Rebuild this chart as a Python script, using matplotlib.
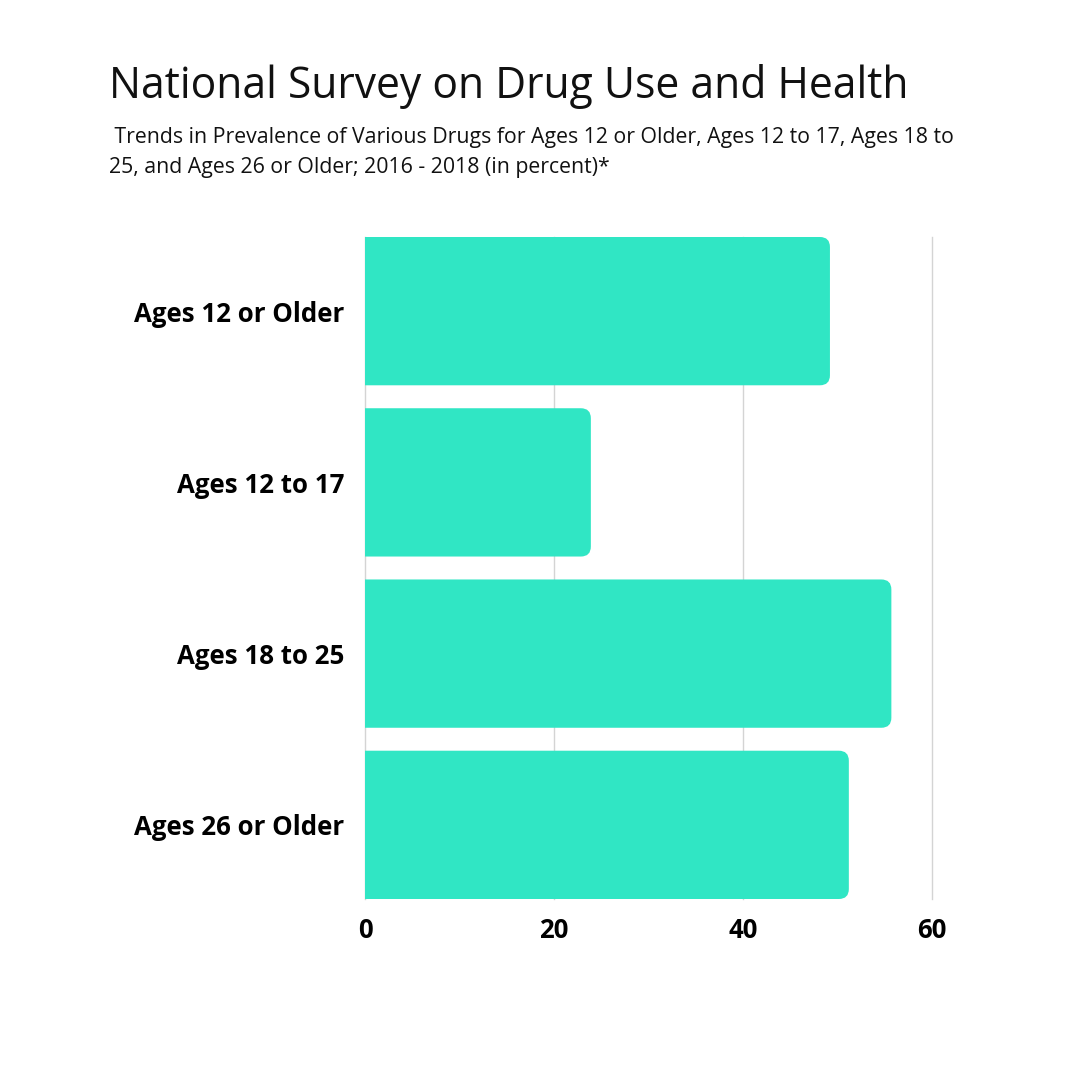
import matplotlib.pyplot as plt
from matplotlib.patches import PathPatch
from matplotlib.path import Path

plt.rcParams['font.family'] = ['Open Sans', 'DejaVu Sans']

# data
groups = ['Ages 12 or Older', 'Ages 12 to 17', 'Ages 18 to 25', 'Ages 26 or Older']
values = [49.2, 23.9, 55.7, 51.2]
xticks = [0, 20, 40, 60]

bar_color = '#30E6C4'

fig = plt.figure(figsize=(10.8, 10.8), dpi=100)
ax = fig.add_axes([365 / 1080, 1 - 899 / 1080, (932 - 365) / 1080, (899 - 237) / 1080])

bar_h = 0.866
ax.set_xlim(0, 60)
ax.set_ylim(3 + bar_h / 2, -bar_h / 2)

# px per data unit, so the corners stay round
px_x = (932 - 365) / 60
px_y = (899 - 237) / (3 + bar_h)
rx = 10 / px_x
ry = 10 / px_y


def right_rounded(x0, y0, w, h):
    x1, y1 = x0 + w, y0 + h
    verts = [(x0, y0), (x1 - rx, y0), (x1, y0), (x1, y0 + ry),
             (x1, y1 - ry), (x1, y1), (x1 - rx, y1), (x0, y1), (x0, y0)]
    codes = [Path.MOVETO, Path.LINETO, Path.CURVE3, Path.CURVE3,
             Path.LINETO, Path.CURVE3, Path.CURVE3, Path.LINETO, Path.CLOSEPOLY]
    return Path(verts, codes)


bars = ax.barh(range(len(groups)), values, height=bar_h, color=bar_color, alpha=0)
for b in bars:
    p = right_rounded(b.get_x(), b.get_y(), b.get_width(), b.get_height())
    ax.add_patch(PathPatch(p, fc=bar_color, ec='none', zorder=3))

ax.set_xticks(xticks)
ax.set_xticklabels([str(t) for t in xticks], fontsize=18.5, fontweight='bold')
ax.set_yticks(range(len(groups)))
ax.set_yticklabels(groups, fontsize=18.6, fontweight='bold')
ax.tick_params(length=0)
ax.tick_params(axis='y', pad=15)
ax.tick_params(axis='x', pad=13)

for t in xticks:
    ax.axvline(t, color='#d4d4d4', lw=1, zorder=1, clip_on=False)
for s in ax.spines.values():
    s.set_visible(False)

fig.text(109 / 1080, 1 - 98 / 1080, 'National Survey on Drug Use and Health',
         fontsize=30.7, ha='left', va='baseline', color='#111111')
fig.text(109 / 1080, 1 - 143 / 1080,
         ' Trends in Prevalence of Various Drugs for Ages 12 or Older, Ages 12 to 17, Ages 18 to',
         fontsize=15.35, ha='left', va='baseline', color='#111111')
fig.text(109 / 1080, 1 - 173 / 1080,
         '25, and Ages 26 or Older; 2016 - 2018 (in percent)*',
         fontsize=15.35, ha='left', va='baseline', color='#111111')

fig.savefig('out.png', dpi=100, facecolor='white')
